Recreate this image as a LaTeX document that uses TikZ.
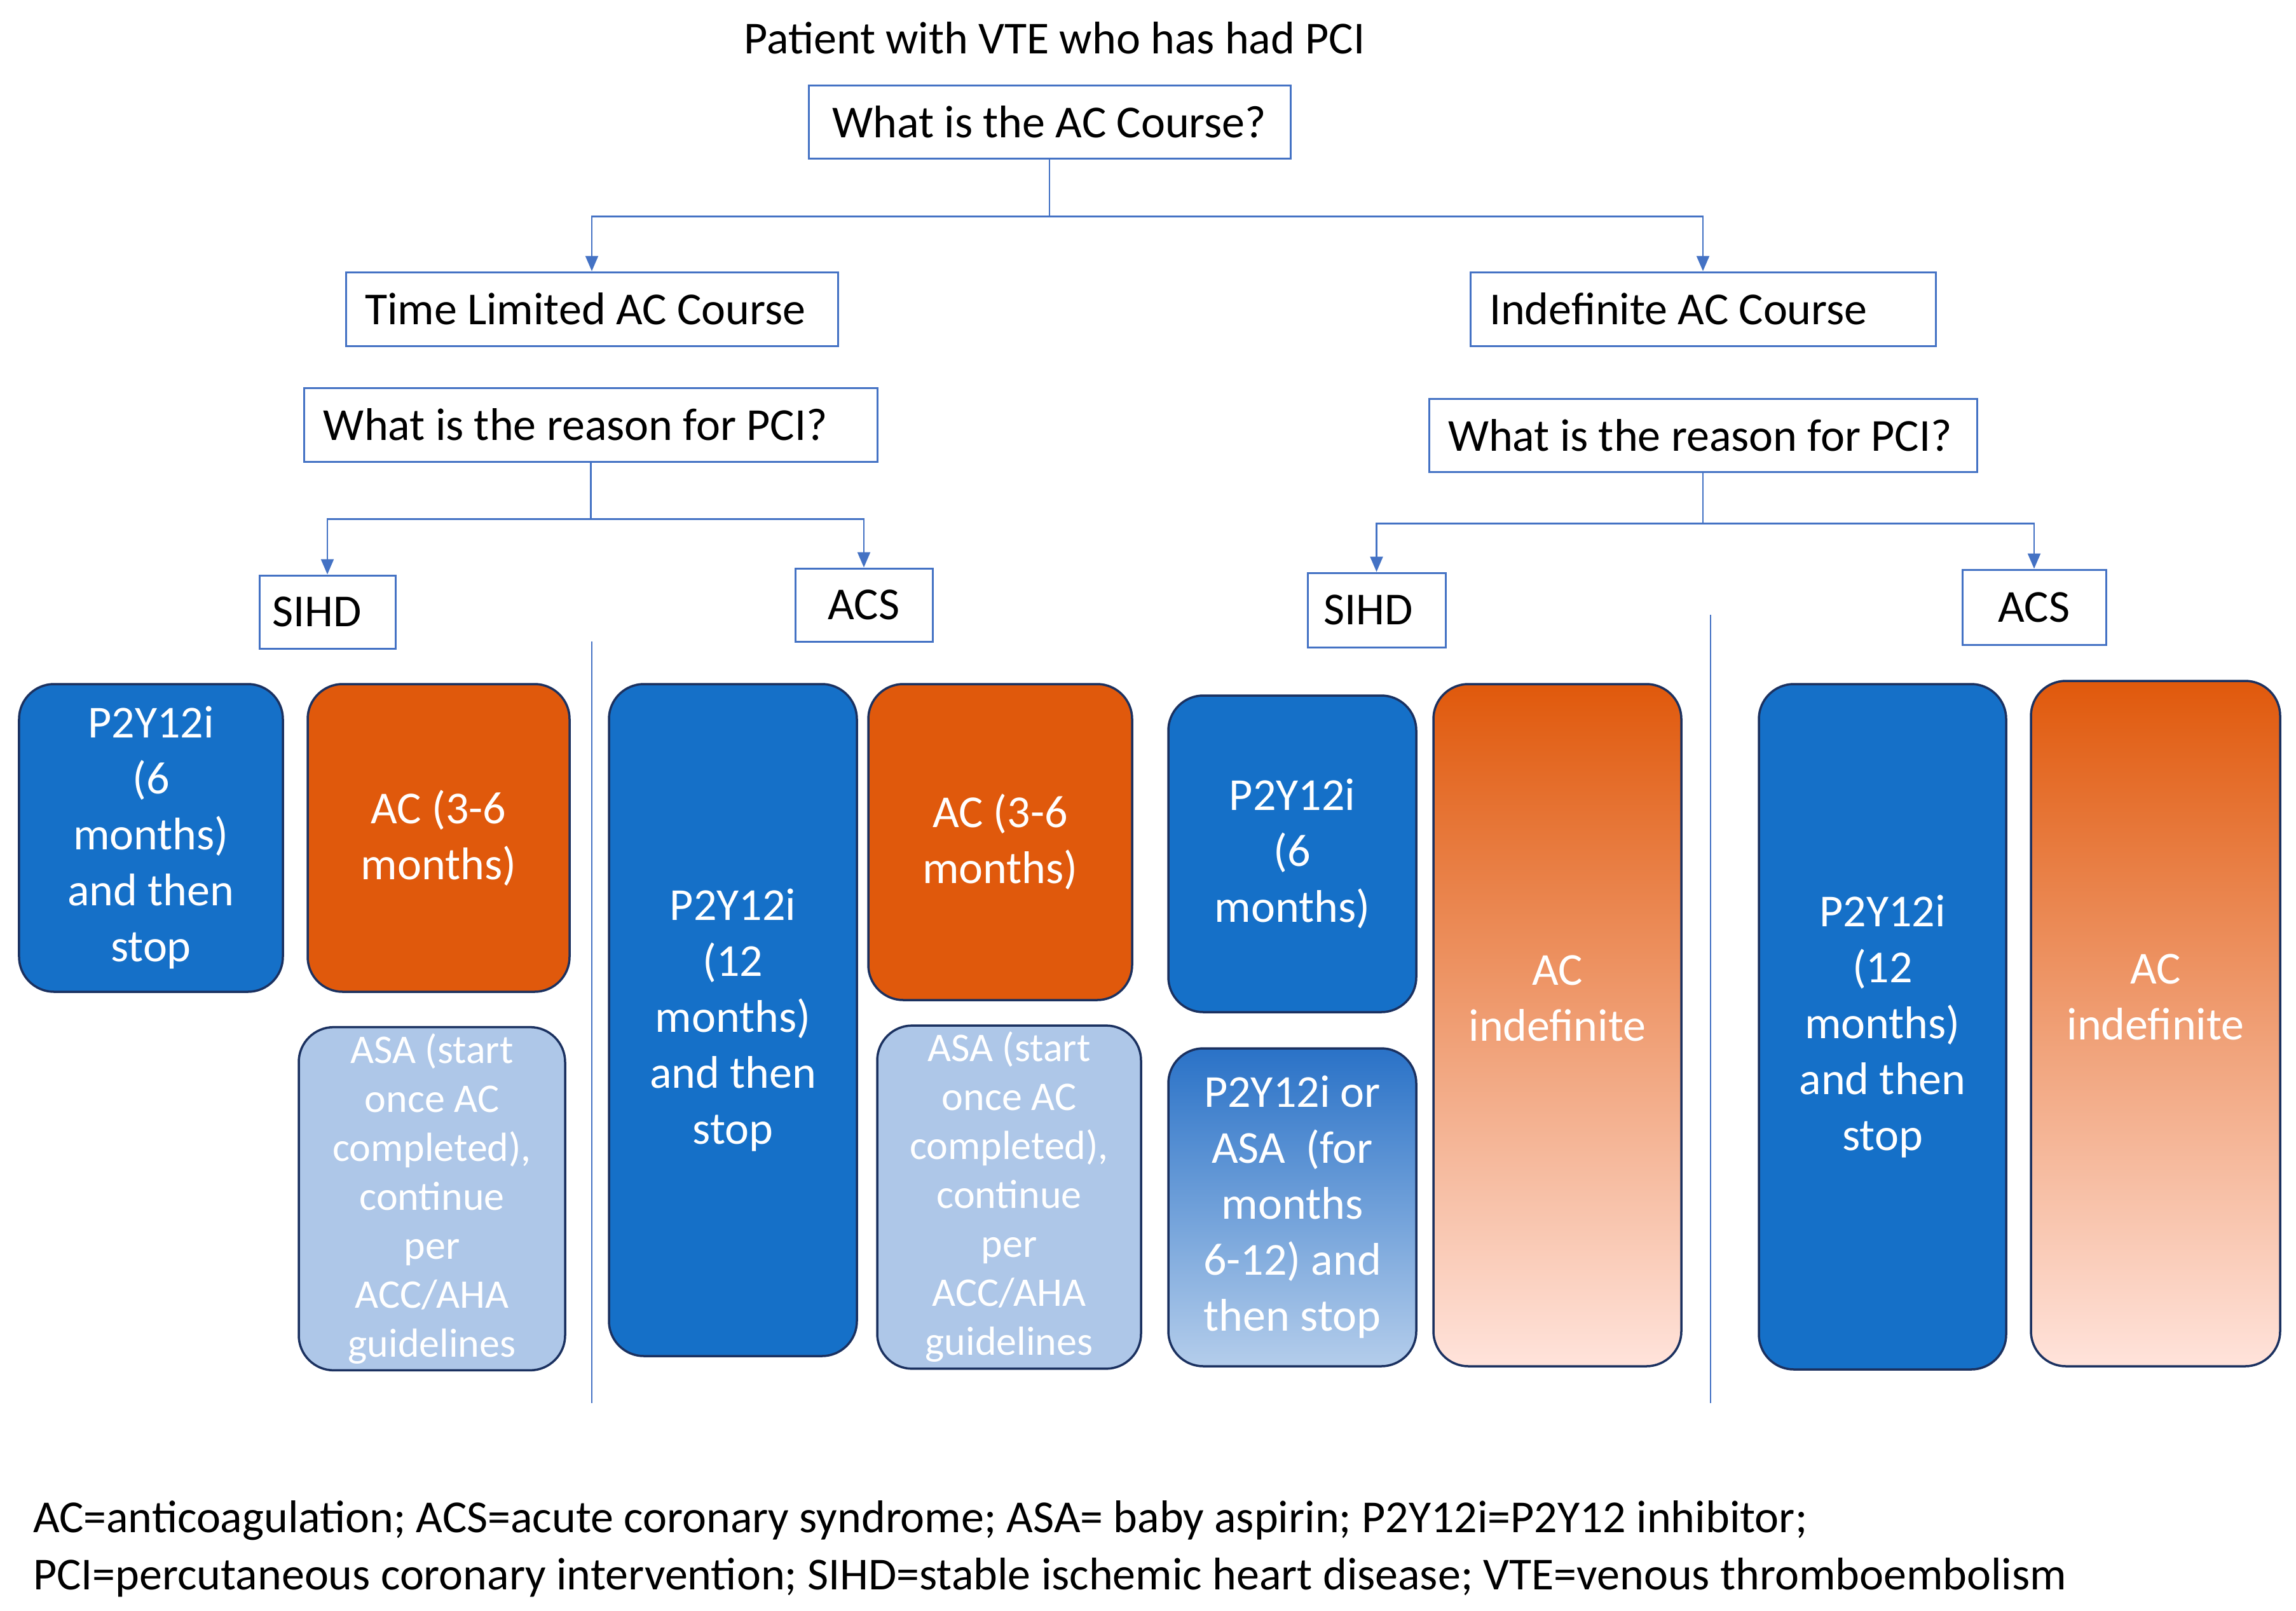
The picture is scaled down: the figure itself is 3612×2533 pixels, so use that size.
\documentclass[tikz,border=0pt]{standalone}
\usepackage{fontspec}
\setmainfont{Carlito}
\usetikzlibrary{arrows.meta}
\definecolor{linkColor}{HTML}{4472C4}
\definecolor{edgeColor}{HTML}{1B3160}
\definecolor{drugBlue}{HTML}{1570C8}
\definecolor{drugOrange}{HTML}{E0590C}
\definecolor{asaBlue}{HTML}{AEC7E8}
\definecolor{fadeBlueTop}{HTML}{2A72C7}
\definecolor{fadeBlueBot}{HTML}{B4CDEB}
\definecolor{fadeOrangeTop}{HTML}{E0590C}
\definecolor{fadeOrangeBot}{HTML}{FFE3DB}
\def\textTitle{Patient with VTE who has had PCI}
\def\textCourse{What is the AC Course?}
\def\textLimited{Time Limited AC Course}
\def\textIndef{Indefinite AC Course}
\def\textReason{What is the reason for PCI?}
\def\textPsix{P2Y12i\\(6\\months)\\and then\\stop}
\def\textPtwelve{P2Y12i\\(12\\months)\\and then\\stop}
\def\textACshort{AC (3-6\\months)}
\def\textASA{ASA (start\\once AC\\completed),\\continue\\per\\ACC/AHA\\guidelines}
\def\textPsixOnly{P2Y12i\\(6\\months)}
\def\textPorASA{P2Y12i or\\ASA\ \ (for\\months\\6-12) and\\then stop}
\def\textACindef{AC\\indefinite\\[-6pt]\strut}

\begin{document}
\begin{tikzpicture}[x=0.2pt,y=-0.2pt,
  qbox/.style={draw=linkColor, line width=0.6pt, inner sep=6pt,
    font=\fontsize{14.4}{17.6}\selectfont},
  lbox/.style={qbox, align=flush left},
  link/.style={draw=linkColor, line width=0.5pt,
    -{Triangle[length=4.8pt,width=4pt]}},
  divider/.style={draw=linkColor, line width=0.5pt},
  drug/.style={draw=edgeColor, line width=0.7pt, rounded corners=11pt,
    text=white, align=center, inner sep=2pt,
    font=\fontsize{14.4}{17.6}\selectfont},
  asa/.style={drug, fill=asaBlue, font=\fontsize{12.8}{15.4}\selectfont}]

% page
\fill[white] (0,0) rectangle (3612,2533);
\useasboundingbox (0,0) rectangle (3612,2533);

% question layer
\begin{scope}
\node[inner sep=0pt, font=\fontsize{14.4}{17.6}\selectfont] (title) at (1659,60) {\textTitle};
\node[qbox, minimum width=151.6pt, minimum height=23pt] (course) at (1651,191.5) {\textCourse};
\node[lbox, minimum width=154.8pt, minimum height=23.2pt, text width=142.8pt] (limited) at (931,486) {\textLimited};
\node[lbox, minimum width=146.4pt, minimum height=23.2pt, text width=134.4pt] (indef) at (2679,486) {\textIndef};
\node[lbox, minimum width=180.2pt, minimum height=23.2pt, text width=168.2pt] (reasonL) at (929.5,668) {\textReason};
\node[lbox, minimum width=172.4pt, minimum height=23pt, text width=160.4pt] (reasonR) at (2679,684.5) {\textReason};
\node[lbox, inner xsep=4pt, minimum width=42.8pt, minimum height=23pt, text width=34.8pt] (sihdL) at (515,962.5) {SIHD};
\node[qbox, minimum width=43.2pt, minimum height=23pt] (acsL) at (1359,951.5) {ACS};
\node[lbox, inner xsep=5pt, minimum width=43.4pt, minimum height=23.4pt, text width=33.4pt] (sihdR) at (2165.5,959.5) {SIHD};
\node[qbox, minimum width=45.2pt, minimum height=23.6pt] (acsR) at (3200,955) {ACS};
\end{scope}

% link layer
\begin{scope}
\draw[link] (course.south) -- ++(0,90) -| (limited.north);
\draw[link] (course.south) -- ++(0,90) -| (indef.north);
\draw[link] (reasonL.south) -- ++(0,89) -| (sihdL.north);
\draw[link] (reasonL.south) -- ++(0,89) -| (acsL.north);
\draw[link] (reasonR.south) -- ++(0,80) -| (sihdR.north);
\draw[link] (reasonR.south) -- ++(0,80) -| (acsR.north);
\end{scope}

% divider layer
\begin{scope}
\coordinate (sepAtop) at (931,1009);
\coordinate (sepAbot) at (931,2207);
\coordinate (sepBtop) at (2691,967);
\coordinate (sepBbot) at (2691,2207);
\draw[divider] (sepAtop) -- (sepAbot);
\draw[divider] (sepBtop) -- (sepBbot);
\end{scope}

% drug layer
\begin{scope}
\node[drug, fill=drugBlue, minimum width=83pt, minimum height=96.8pt] (pSixL) at (237.5,1318) {\textPsix};
\node[drug, fill=drugOrange, minimum width=82.4pt, minimum height=96.8pt] (acL) at (690,1318) {\textACshort};
\node[asa, minimum width=83.8pt, minimum height=107.4pt] (asaL) at (679.5,1885.5) {\textASA};
\node[drug, fill=drugBlue, minimum width=78pt, minimum height=211.4pt] (pTwelveL) at (1153,1604.5) {\textPtwelve};
\node[drug, fill=drugOrange, minimum width=83pt, minimum height=99.4pt] (acLB) at (1573.5,1324.5) {\textACshort};
\node[asa, minimum width=83pt, minimum height=106.4pt] (asaLB) at (1587.5,1883) {\textASA};
\node[drug, fill=drugBlue, minimum width=78pt, minimum height=99.6pt] (pSixR) at (2033,1343) {\textPsixOnly};
\node[drug, top color=fadeBlueTop, bottom color=fadeBlueBot, minimum width=78pt, minimum height=100pt] (pOrAsaR) at (2033,1899) {\textPorASA};
\node[drug, top color=fadeOrangeTop, bottom color=fadeOrangeBot, minimum width=78pt, minimum height=214.6pt] (acIndefA) at (2450,1612.5) {\textACindef};
\node[drug, fill=drugBlue, minimum width=77.8pt, minimum height=215.6pt] (pTwelveR) at (2961.5,1615) {\textPtwelve};
\node[drug, top color=fadeOrangeTop, bottom color=fadeOrangeBot, minimum width=78.4pt, minimum height=215.6pt] (acIndefB) at (3391,1610) {\textACindef};
\end{scope}

% legend
\node[anchor=west, align=left, inner sep=0pt, font=\fontsize{14.4}{18}\selectfont] (legend) at (51,2436)
{AC=anticoagulation; ACS=acute coronary syndrome; ASA= baby aspirin; P2Y12i=P2Y12 inhibitor;\\
PCI=percutaneous coronary intervention; SIHD=stable ischemic heart disease; VTE=venous thromboembolism};
\end{tikzpicture}
\end{document}
